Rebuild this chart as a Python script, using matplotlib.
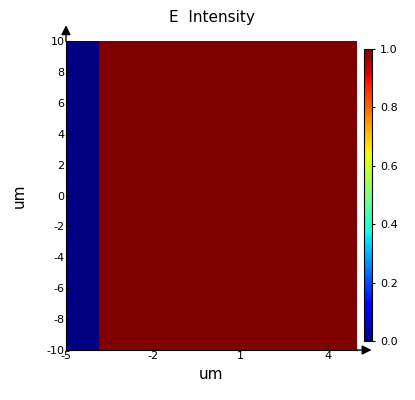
import numpy as np
import matplotlib
matplotlib.use("Agg")
import matplotlib.pyplot as plt
plt.rcParams['axes.unicode_minus'] = False

x_edges = [-5.0, -3.85, 5.0]
y_edges = [-10.0, 10.0]
intensity = [[0.0, 1.0]]
xticks = [-5, -2, 1, 4]
yticks = [-10, -8, -6, -4, -2, 0, 2, 4, 6, 8, 10]
cticks = [0.0, 0.2, 0.4, 0.6, 0.8, 1.0]

fig = plt.figure(figsize=(4.15, 4.0), dpi=100)
ax = fig.add_axes([0.159, 0.125, 0.701, 0.7725])
m = ax.pcolormesh(x_edges, y_edges, np.array(intensity), cmap='jet', vmin=0, vmax=1)
ax.set_xlim(-5, 5)
ax.set_ylim(-10, 10)
ax.set_xticks(xticks)
ax.set_yticks(yticks)
ax.tick_params(direction='in', labelsize=8, length=3, pad=1)
for s in ['top', 'right']:
    ax.spines[s].set_visible(False)
ax.annotate('', xy=(1.06, 0), xycoords='axes fraction', xytext=(0.99, 0),
            arrowprops=dict(arrowstyle='-|>', color='black', lw=1, mutation_scale=14), annotation_clip=False)
ax.annotate('', xy=(0, 1.06), xycoords='axes fraction', xytext=(0, 0.99),
            arrowprops=dict(arrowstyle='-|>', color='black', lw=1, mutation_scale=14), annotation_clip=False)
ax.set_xlabel('um', fontsize=11)
ax.set_ylabel('um', fontsize=11, labelpad=14)
ax.set_title('E  Intensity', fontsize=11, pad=14)

cax = fig.add_axes([0.878, 0.1475, 0.019, 0.73])
cb = fig.colorbar(m, cax=cax, ticks=cticks)
cb.ax.set_yticklabels(['%.1f' % t for t in cticks])
cb.ax.tick_params(labelsize=8, length=2)
fig.savefig('out.png', dpi=100)
